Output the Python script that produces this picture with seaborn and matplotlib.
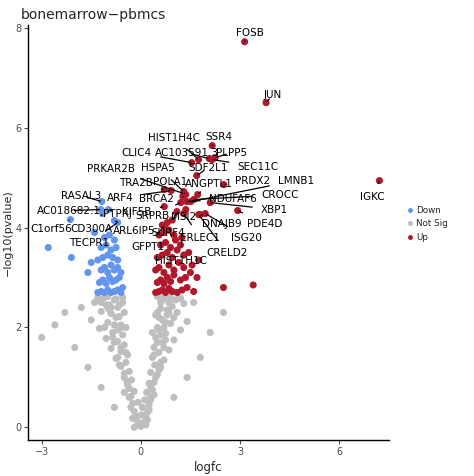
import matplotlib
matplotlib.use("Agg")
import matplotlib.pyplot as plt
import seaborn as sns
import pandas as pd

gray_x = [0,0.05,-0.05,0.1,-0.1,0.15,-0.15,0.02,0.2,-0.2,0.25,-0.25,0.05,-0.08,0.3,-0.3,0.12,0.35,-0.35,0.18,-0.2,
          0.4,-0.42,0.25,-0.28,0.5,-0.5,0.3,-0.35,0.6,-0.6,0.42,-0.45,0.7,-0.75,0.35,-0.4,0.55,-0.6,0.85,-0.9,0.4,-0.5,
          0.65,-0.7,1.0,-1.05,0.45,-0.55,0.75,-0.85,1.2,-1.25,0.5,-0.6,0.9,-1.0,1.4,-1.5,0.55,-0.65,0.8,-0.9,1.1,-1.2,
          0.6,-0.7,0.95,-1.05,1.3,-1.4,0.65,-0.75,0.9,-1.0,1.2,-1.3,
          -3.0,-2.6,-2.3,-2.0,-1.8,2.1,2.5,1.8,1.6,-1.6,1.4,-1.2,1.0,-0.8,
          0.3,-0.4,0.45,-0.5,0.6,-0.7,0.7,-0.8,0.5,-0.55,0.35,-0.45,1.05,-1.1,0.75,-0.95,0.55,-0.65,0.4,-0.5,
          0.5,-0.55,0.6,-0.65,0.7,-0.8,0.8,-0.9,0.45,-0.5,0.55,-0.6,0.65,-0.75,0.75,-0.85,0.85,-0.95,1.0,-1.1,
          0.4,-0.45,0.5,-0.6,0.6,-0.7,0.7,-0.8,0.85,-1.0,1.15,-1.2,0.25,-0.3,0.3,-0.35,0.2,-0.25,0.15,-0.2]
gray_y = [0.02,0.05,0.08,0.1,0.12,0.2,0.22,0.25,0.3,0.32,0.45,0.48,0.4,0.5,0.6,0.62,0.55,0.75,0.78,0.7,0.72,
          0.9,0.92,0.88,0.95,1.05,1.08,1.1,1.12,1.2,1.22,1.25,1.3,1.35,1.38,1.4,1.45,1.5,1.52,1.55,1.58,1.6,1.65,
          1.7,1.72,1.75,1.78,1.8,1.85,1.88,1.9,1.95,1.98,2.0,2.05,2.08,2.1,2.12,2.15,2.2,2.22,2.25,2.28,2.3,2.32,
          2.38,2.4,2.42,2.45,2.48,2.5,2.55,2.57,2.6,2.62,2.58,2.6,
          1.8,2.05,2.3,1.6,2.4,1.9,2.3,1.4,2.5,1.2,1.0,0.8,0.6,0.4,
          0.8,0.85,1.0,1.0,1.3,1.4,1.6,1.7,2.3,2.5,1.9,2.0,2.55,2.0,2.1,2.35,1.15,1.25,0.65,0.7,
          2.62,2.6,2.5,2.45,2.6,2.55,2.35,2.4,2.25,2.3,1.95,2.0,2.15,2.2,1.75,1.8,2.5,2.45,2.2,2.6,
          1.45,1.5,1.7,1.6,1.85,1.95,2.0,2.05,2.3,2.4,2.6,2.5,0.35,0.4,0.55,0.6,0.15,0.18,0.05,0.0]

red_x = [0.45,0.55,0.65,0.75,0.85,0.95,1.1,1.25,1.4,1.6,0.5,0.6,0.7,0.8,0.9,1.0,1.2,1.35,0.45,0.55,0.7,0.85,1.0,1.15,
         1.3,1.5,1.75,0.5,0.65,0.8,0.95,1.1,1.3,0.6,0.75,0.9,1.05,1.2,1.45,0.55,0.7,0.85,1.0,0.65,0.8,0.95,2.5,3.4,1.7,1.55]
red_y = [2.7,2.72,2.75,2.7,2.78,2.72,2.7,2.75,2.8,2.72,2.9,2.95,2.88,3.0,2.92,3.05,2.95,3.0,3.15,3.2,3.1,3.25,3.15,3.3,
         3.2,3.1,3.35,3.4,3.45,3.5,3.4,3.55,3.45,3.65,3.7,3.6,3.75,3.65,3.5,3.85,3.9,3.95,3.85,4.05,4.1,4.15,2.8,2.85,3.0,3.25]

blue_x = [-1.3,-1.2,-1.1,-1.0,-0.9,-0.8,-0.7,-0.6,-0.55,-1.25,-1.15,-1.05,-0.95,-0.85,-0.75,-0.65,-1.2,-1.1,-1.0,-0.9,
          -0.8,-0.7,-0.6,-1.3,-1.15,-1.0,-0.85,-0.7,-1.2,-1.05,-0.9,-0.75,-1.1,-0.95,-0.8,-2.8,-2.1,-1.5,-1.4,-1.6]
blue_y = [2.7,2.72,2.7,2.75,2.7,2.72,2.75,2.7,2.8,2.9,2.95,2.88,3.0,2.92,2.95,3.0,3.15,3.2,3.1,3.25,3.15,3.2,3.1,3.35,
          3.4,3.45,3.4,3.35,3.6,3.65,3.55,3.6,3.8,3.85,3.75,3.6,3.4,3.3,3.9,3.1]

genes = ["FOSB","JUN","IGKC","HIST1H4C","SSR4","CLIC4","AC103591.3","PLPP5","HSPA5","SDF2L1","SEC11C","PRKAR2B",
         "TRA2B","POLA1","ANGPTL1","PRDX2","LMNB1","RASAL3","ARF4","BRCA2","NDUFAF6","CROCC","AC018682.1","PTPRJ",
         "KIF5B","SRPRB","MSI2","XBP1","C1orf56","CD300A","ARL6IP5","SURF4","DNAJB9","PDE4D","TECPR1","GFPT1",
         "ERLEC1","ISG20","CRELD2","HIST1H1C"]
gene_x = [3.14,3.79,7.22,1.75,2.16,1.54,2.07,2.25,1.3,1.69,2.16,1.3,0.71,1.36,1.72,2.51,1.51,-1.18,0.92,1.27,1.39,1.6,
          -1.21,-0.98,0.71,1.21,1.36,2.1,-2.13,-1.15,-0.8,1.09,1.8,2.93,-0.7,0.71,1.3,1.95,1.75,1.24]
gene_y = [7.72,6.5,4.94,5.36,5.64,5.3,5.38,5.4,4.72,5.04,5.36,4.68,4.76,4.66,4.66,4.86,4.52,4.52,4.74,4.62,4.52,4.56,
          4.36,4.36,4.42,4.5,4.36,4.5,4.16,4.28,4.14,4.32,4.26,4.34,4.1,4.04,4.28,4.28,4.26,3.8]
text_x = [3.3,4.0,7.0,1.0,2.37,-0.12,1.39,2.75,0.53,2.04,3.55,-0.89,-0.15,0.89,2.07,3.37,4.7,-1.8,-0.62,0.47,2.78,4.23,
          -2.19,-0.71,-0.12,0.36,1.3,4.05,-2.72,-1.5,-0.2,0.83,2.46,3.76,-1.56,0.21,1.8,3.2,2.6,1.21]
text_y = [7.9,6.66,4.62,5.8,5.82,5.5,5.5,5.5,5.2,5.2,5.22,5.18,4.9,4.92,4.88,4.94,4.94,4.64,4.6,4.58,4.58,4.66,
          4.34,4.28,4.32,4.24,4.22,4.36,3.98,3.98,3.94,3.9,4.08,4.08,3.7,3.62,3.8,3.8,3.5,3.34]
gene_dir = ["Up"] * 40
for i in (17, 22, 23, 28, 29, 30, 34):
    gene_dir[i] = "Down"

df = pd.DataFrame({
    "logfc": gray_x + blue_x + red_x + gene_x,
    "p": gray_y + blue_y + red_y + gene_y,
    "g": ["Not Sig"] * len(gray_x) + ["Down"] * len(blue_x) + ["Up"] * len(red_x) + gene_dir,
})

sns.set_style("white")
fig = plt.figure(figsize=(4.74, 4.76), dpi=100)
ax = fig.add_axes([0.06, 0.076, 0.76, 0.872])
pal = {"Down": "#6495ED", "Not Sig": "#BEBEBE", "Up": "#B2182B"}
sns.scatterplot(data=df, x="logfc", y="p", hue="g", hue_order=["Down", "Not Sig", "Up"], palette=pal,
                s=26, linewidth=0, ax=ax, zorder=2)
for g, x, y, tx, ty in zip(genes, gene_x, gene_y, text_x, text_y):
    ax.annotate(g, (x, y), (tx, ty), ha="center", va="center", fontsize=7.5, color="black",
                arrowprops=dict(arrowstyle="-", color="black", lw=0.9, shrinkA=4, shrinkB=1), zorder=3)
ax.set_xlim(-3.4, 7.5)
ax.set_ylim(-0.25, 8.06)
ax.set_xticks([-3, 0, 3, 6])
ax.set_yticks([0, 2, 4, 6, 8])
ax.tick_params(axis="both", labelsize=7, colors="#4D4D4D", length=3, width=0.8, left=True, bottom=True, pad=2)
for s in ["top", "right"]:
    ax.spines[s].set_visible(False)
for s in ["left", "bottom"]:
    ax.spines[s].set_color("black")
    ax.spines[s].set_linewidth(1)
ax.set_xlabel("logfc", fontsize=8.5, labelpad=3)
ax.set_ylabel("−log10(pvalue)", fontsize=8, labelpad=2)
ax.set_title("bonemarrow−pbmcs", fontsize=10, loc="left", x=-0.02, pad=4)
ax.legend(title=None, frameon=False, fontsize=6.3, loc="center left", bbox_to_anchor=(1.04, 0.52),
          markerscale=0.7, handletextpad=0.1, borderaxespad=0.0, handlelength=1.2, borderpad=0.2)
fig.savefig("out.png", dpi=100)
